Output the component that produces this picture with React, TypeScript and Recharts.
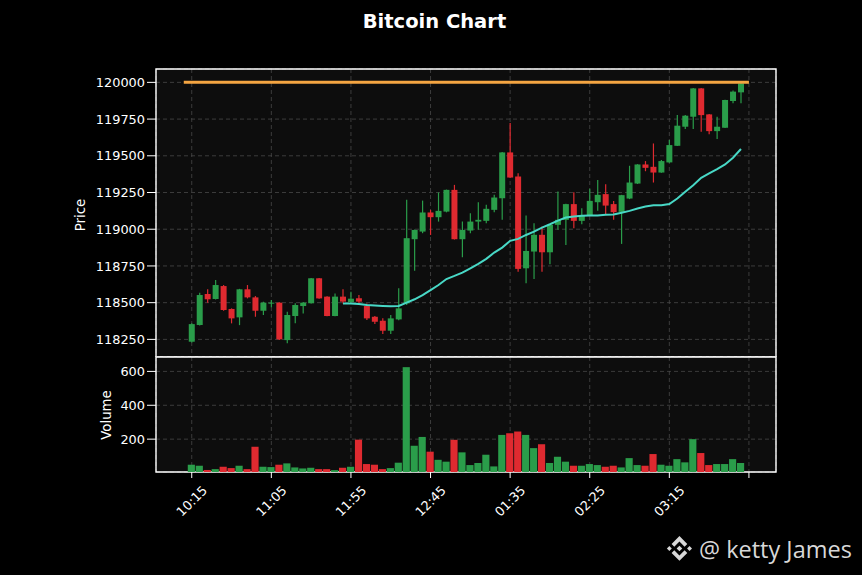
import React from 'react';
import {
  ComposedChart,
  Bar,
  Line,
  XAxis,
  YAxis,
  CartesianGrid,
  ReferenceLine,
  ReferenceArea,
  Cell,
} from 'recharts';

// ---- data ----
const openP = [
  118234, 118348, 118559, 118525, 118613, 118457, 118400, 118591, 118536, 118445,
  118495, 118500, 118245, 118409, 118477, 118496, 118666, 118541, 118409, 118541,
  118504, 118530, 118477, 118404, 118377, 118309, 118386, 118495, 118932, 118984,
  119114, 119082, 119120, 119268, 118932, 118991, 119052, 119057, 119132, 119211,
  119523, 119359, 118734, 118848, 118962, 118843, 119030, 119064, 119171, 119057,
  119093, 119184, 119239, 119171, 119118, 119209, 119311, 119441, 119425, 119386,
  119455, 119568, 119698, 119766, 119959, 119782, 119668, 119691, 119873, 119932,
];
const highP = [
  118360, 118568, 118591, 118654, 118620, 118461, 118594, 118620, 118545, 118506,
  118518, 118503, 118438, 118496, 118505, 118668, 118668, 118543, 118563, 118591,
  118575, 118552, 118495, 118410, 118393, 118416, 118598, 119200, 118998, 119195,
  119132, 119250, 119270, 119302, 119052, 119109, 119184, 119166, 119235, 119525,
  119723, 119382, 119093, 119041, 119018, 119032, 119257, 119173, 119252, 119143,
  119275, 119336, 119307, 119193, 119234, 119432, 119443, 119464, 119584, 119471,
  119607, 119777, 119777, 119962, 119961, 119784, 119766, 119882, 119945, 120005,
];
const lowP = [
  118228, 118345, 118500, 118522, 118445, 118359, 118347, 118529, 118404, 118416,
  118468, 118245, 118223, 118359, 118427, 118494, 118527, 118407, 118407, 118495,
  118495, 118484, 118382, 118354, 118286, 118286, 118380, 118484, 118718, 118973,
  118961, 119052, 119115, 118930, 118809, 118973, 118996, 119041, 119116, 119064,
  119350, 118711, 118632, 118661, 118711, 118761, 118996, 118893, 119007, 119034,
  119090, 119125, 119098, 119064, 118900, 119205, 119308, 119395, 119318, 119384,
  119453, 119566, 119682, 119682, 119664, 119646, 119614, 119689, 119857, 119857,
];
const closeP = [
  118354, 118552, 118523, 118620, 118450, 118393, 118591, 118536, 118445, 118500,
  118500, 118250, 118416, 118484, 118500, 118666, 118529, 118409, 118541, 118507,
  118527, 118507, 118393, 118370, 118309, 118393, 118461, 118939, 118995, 119114,
  119082, 119125, 119268, 118932, 118995, 119052, 119064, 119139, 119216, 119523,
  119352, 118730, 118852, 118962, 118843, 119030, 119064, 119171, 119057, 119093,
  119193, 119234, 119161, 119116, 119232, 119318, 119441, 119418, 119386, 119464,
  119573, 119705, 119773, 119959, 119777, 119668, 119698, 119880, 119937, 119993,
];
const volume = [
  49, 43, 18, 23, 37, 29, 43, 23, 155, 37,
  35, 49, 57, 33, 27, 31, 23, 23, 17, 31,
  37, 197, 53, 49, 23, 29, 61, 625, 161, 213,
  126, 78, 67, 196, 122, 47, 59, 108, 39, 225,
  235, 245, 225, 147, 170, 59, 96, 67, 43, 43,
  53, 47, 37, 43, 33, 88, 47, 43, 112, 49,
  43, 82, 63, 200, 118, 47, 53, 53, 82, 59,
];
const sma20 = [
  null, null, null, null, null, null, null, null, null, null,
  null, null, null, null, null, null, null, null, null, 118495,
  118495, 118491, 118484, 118480, 118477, 118475, 118477, 118500, 118523, 118552,
  118586, 118620, 118661, 118682, 118705, 118734, 118764, 118798, 118841, 118875,
  118921, 118934, 118961, 118984, 119011, 119034, 119059, 119080, 119087, 119091,
  119093, 119093, 119098, 119100, 119112, 119125, 119141, 119155, 119164, 119164,
  119171, 119209, 119255, 119300, 119350, 119380, 119409, 119441, 119487, 119546,
];
const tickIndex = [0, 10, 20, 30, 40, 50, 60, 70];
const tickLabels = ['10:15', '11:05', '11:55', '12:45', '01:35', '02:25', '03:15', ''];
const priceTicks = [118250, 118500, 118750, 119000, 119250, 119500, 119750, 120000];
const volumeTicks = [200, 400, 600];
const targetPrice = 120000;
const targetSpan = [-1, 70];

// ---- styling ----
const GREEN = '#2a9d4a';
const RED = '#df2a30';
const SMA_COLOR = '#48d8c6';
const ORANGE = '#f4a542';
const PANEL_BG = '#0d0d0d';
const GRID = '#484848';
const FONT = 'DejaVu Sans, sans-serif';
const X_DOMAIN: [number, number] = [-4.49, 73.4];
const PRICE_DOMAIN: [number, number] = [118130, 120091];
const VOL_DOMAIN: [number, number] = [6, 685];

const data = openP.map((o, i) => ({
  i,
  open: o,
  high: highP[i],
  low: lowP[i],
  close: closeP[i],
  range: [lowP[i], highP[i]],
  vol: volume[i],
  sma: sma20[i],
}));

const Candle = (props: any) => {
  const { x, y, width, height, payload } = props;
  if (!payload) return null;
  const { open, close, high, low } = payload;
  const up = close >= open;
  const color = up ? GREEN : RED;
  const top0 = Math.min(y, y + height);
  const h = Math.abs(height);
  const span = high - low || 1;
  const toY = (v: number) => top0 + ((high - v) / span) * h;
  const cx = x + width / 2;
  const bTop = toY(Math.max(open, close));
  const bBot = toY(Math.min(open, close));
  const bw = 6;
  return (
    <g>
      <line x1={cx} x2={cx} y1={top0} y2={top0 + h} stroke={color} strokeWidth={1.2} />
      <rect x={cx - bw / 2} y={bTop} width={bw} height={Math.max(bBot - bTop, 1)} fill={color} />
    </g>
  );
};

const TimeTick = (props: any) => {
  const { x, y, payload } = props;
  const idx = tickIndex.indexOf(payload.value);
  const label = idx >= 0 ? tickLabels[idx] : '';
  const cy = y + 23;
  return (
    <text
      x={x}
      y={cy}
      fill="#ffffff"
      fontSize={12.8}
      fontFamily={FONT}
      textAnchor="middle"
      dominantBaseline="central"
      transform={`rotate(-45 ${x} ${cy})`}
    >
      {label}
    </text>
  );
};

const yTickStyle = { fill: '#ffffff', fontSize: 12.9, fontFamily: FONT };

export default function App() {
  return (
    <div
      style={{
        position: 'absolute',
        left: 0,
        top: 0,
        width: 862,
        height: 575,
        background: '#000000',
        overflow: 'hidden',
      }}
    >
      <div style={{ position: 'absolute', left: 0, top: 0 }}>
        <ComposedChart
          width={862}
          height={357}
          data={data}
          margin={{ top: 69, right: 86, bottom: 0, left: 76 }}
        >
          <CartesianGrid
            fill={PANEL_BG}
            stroke={GRID}
            strokeDasharray="4 3"
            strokeWidth={0.8}
          />
          <XAxis
            dataKey="i"
            type="number"
            domain={X_DOMAIN}
            ticks={tickIndex}
            allowDataOverflow
            hide
          />
          <YAxis
            type="number"
            domain={PRICE_DOMAIN}
            ticks={priceTicks}
            allowDataOverflow
            width={80}
            axisLine={false}
            tickLine={{ stroke: '#ffffff' }}
            tickSize={9}
            tickMargin={2}
            tick={yTickStyle}
          />
          <ReferenceLine
            segment={[
              { x: targetSpan[0], y: targetPrice },
              { x: targetSpan[1], y: targetPrice },
            ]}
            stroke={ORANGE}
            strokeWidth={3}
            ifOverflow="visible"
          />
          <Bar dataKey="range" shape={<Candle />} barSize={6} isAnimationActive={false} />
          <Line
            dataKey="sma"
            type="linear"
            stroke={SMA_COLOR}
            strokeWidth={2}
            dot={false}
            connectNulls={false}
            isAnimationActive={false}
          />
          <ReferenceArea
            x1={X_DOMAIN[0]}
            x2={X_DOMAIN[1]}
            y1={PRICE_DOMAIN[0]}
            y2={PRICE_DOMAIN[1]}
            fill="none"
            fillOpacity={0}
            stroke="#ffffff"
            strokeOpacity={1}
            strokeWidth={1.4}
            ifOverflow="visible"
          />
        </ComposedChart>
      </div>
      <div style={{ position: 'absolute', left: 0, top: 0 }}>
        <ComposedChart
          width={862}
          height={575}
          data={data}
          margin={{ top: 357, right: 86, bottom: 43, left: 76 }}
          barCategoryGap={0}
        >
          <CartesianGrid
            fill={PANEL_BG}
            stroke={GRID}
            strokeDasharray="4 3"
            strokeWidth={0.8}
          />
          <XAxis
            dataKey="i"
            type="number"
            domain={X_DOMAIN}
            ticks={tickIndex}
            allowDataOverflow
            height={60}
            axisLine={false}
            tickLine={{ stroke: '#ffffff' }}
            tickSize={6}
            tickMargin={0}
            tick={<TimeTick />}
            interval={0}
          />
          <YAxis
            type="number"
            domain={VOL_DOMAIN}
            ticks={volumeTicks}
            allowDataOverflow
            width={80}
            axisLine={false}
            tickLine={{ stroke: '#ffffff' }}
            tickSize={9}
            tickMargin={2}
            tick={yTickStyle}
          />
          <Bar dataKey="vol" barSize={8} isAnimationActive={false}>
            {data.map((d) => (
              <Cell key={d.i} fill={d.close >= d.open ? GREEN : RED} />
            ))}
          </Bar>
          <ReferenceArea
            x1={X_DOMAIN[0]}
            x2={X_DOMAIN[1]}
            y1={VOL_DOMAIN[0]}
            y2={VOL_DOMAIN[1]}
            fill="none"
            fillOpacity={0}
            stroke="#ffffff"
            strokeOpacity={1}
            strokeWidth={1.4}
            ifOverflow="visible"
          />
        </ComposedChart>
      </div>
      <svg
        width={862}
        height={575}
        style={{ position: 'absolute', left: 0, top: 0, pointerEvents: 'none' }}
      >
        <text
          x={434.5}
          y={28}
          fill="#ffffff"
          fontSize={19.5}
          fontWeight="bold"
          fontFamily={FONT}
          textAnchor="middle"
        >
          Bitcoin Chart
        </text>
        <text
          x={85}
          y={215}
          fill="#ffffff"
          fontSize={13.3}
          fontFamily={FONT}
          textAnchor="middle"
          transform="rotate(-90 85 215)"
        >
          Price
        </text>
        <text
          x={111}
          y={415}
          fill="#ffffff"
          fontSize={13.3}
          fontFamily={FONT}
          textAnchor="middle"
          transform="rotate(-90 111 415)"
        >
          Volume
        </text>
        <g transform="translate(666 535) scale(1.12)" fill="#d8d8d8">
          <polygon points="0.8,12 3,9.8 5.2,12 3,14.2" />
          <polygon points="18.8,12 21,9.8 23.2,12 21,14.2" />
          <polygon points="9.5,12 12,9.5 14.5,12 12,14.5" />
          <polygon points="12,1 19,8 16.6,10.4 12,5.8 7.4,10.4 5,8" />
          <polygon points="12,23 19,16 16.6,13.6 12,18.2 7.4,13.6 5,16" />
        </g>
        <text
          x={699}
          y={558}
          fill="#d8d8d8"
          fontSize={23.5}
          fontFamily="Open Sans, sans-serif"
        >
          @ ketty James
        </text>
      </svg>
    </div>
  );
}
